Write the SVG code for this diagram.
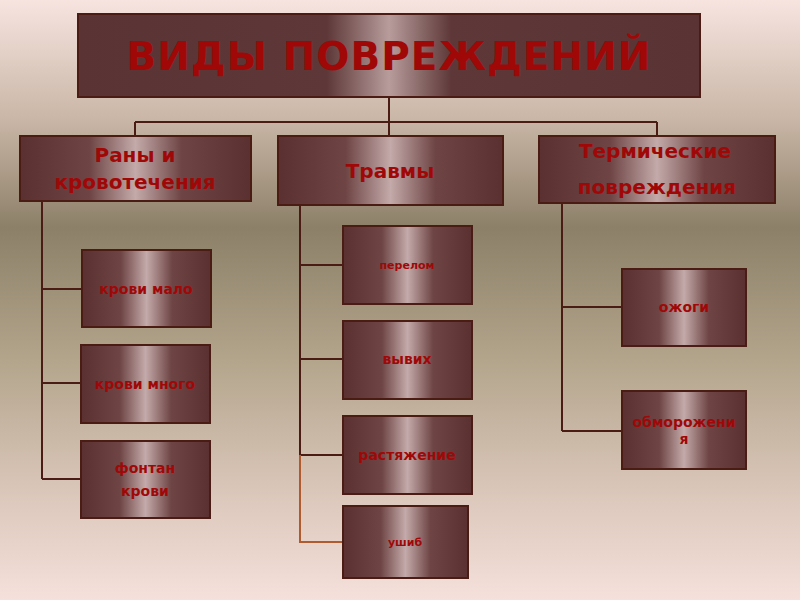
<svg xmlns="http://www.w3.org/2000/svg" width="800" height="600" viewBox="0 0 800 600">
<defs>
<linearGradient id="bg" x1="0" y1="0" x2="0" y2="1">
<stop offset="0" stop-color="#f7e4e0"/>
<stop offset="0.2" stop-color="#c9b6a6"/>
<stop offset="0.38" stop-color="#8c8068"/>
<stop offset="0.6" stop-color="#b3a58c"/>
<stop offset="0.85" stop-color="#e0cbc0"/>
<stop offset="1" stop-color="#f5e0db"/>
</linearGradient>
<linearGradient id="metal" x1="0" y1="0" x2="1" y2="0">
<stop offset="0" stop-color="#5a3030"/>
<stop offset="0.3" stop-color="#6e4444"/>
<stop offset="0.5" stop-color="#c4aaaa"/>
<stop offset="0.7" stop-color="#6e4444"/>
<stop offset="1" stop-color="#5a3030"/>
</linearGradient>
<linearGradient id="metalT" x1="0" y1="0" x2="1" y2="0">
<stop offset="0" stop-color="#5a3434"/>
<stop offset="0.4" stop-color="#5e3838"/>
<stop offset="0.5" stop-color="#b89c9c"/>
<stop offset="0.6" stop-color="#5e3838"/>
<stop offset="1" stop-color="#5a3434"/>
</linearGradient>
</defs>
<style>
.b{fill:url(#metal);stroke:#4a1c14;stroke-width:2}
.t{font-family:"DejaVu Sans",sans-serif;font-weight:bold;fill:#a00808;text-anchor:middle}
.l1{font-size:20px}
.c{font-size:14px}
.s{font-size:11px}
.ln{stroke:#4a1c14;stroke-width:2;fill:none}
</style>
<rect width="800" height="600" fill="url(#bg)"/>
<g id="connectors">
<path class="ln" d="M389 97V122M135 122H657M135 122V136M389 122V136M657 122V136"/>
<path class="ln" d="M42 201V479M42 289H82M42 383H81M42 479H81"/>
<path class="ln" d="M300 205V455M300 265H343M300 359H343M300 455H343"/>
<path class="ln" d="M300 455V542H343" style="stroke:#b05a30"/>
<path class="ln" d="M562 203V431M562 307H622M562 431H622"/>
</g>
<g id="title"><rect class="b" x="78" y="14" width="622" height="83" style="fill:url(#metalT)"/><text class="t" x="389" y="70" font-size="39" letter-spacing="1">ВИДЫ ПОВРЕЖДЕНИЙ</text></g>
<g id="rany"><rect class="b" x="20" y="136" width="231" height="65"/><text class="t l1" x="135" y="162">Раны и</text><text class="t l1" x="135" y="189">кровотечения</text></g>
<g id="travmy"><rect class="b" x="278" y="136" width="225" height="69"/><text class="t l1" x="390" y="178">Травмы</text></g>
<g id="term"><rect class="b" x="539" y="136" width="236" height="67"/><text class="t l1" x="655" y="158">Термические</text><text class="t l1" x="657" y="194">повреждения</text></g>
<g id="malo"><rect class="b" x="82" y="250" width="129" height="77"/><text class="t c" x="146" y="294">крови мало</text></g>
<g id="mnogo"><rect class="b" x="81" y="345" width="129" height="78"/><text class="t c" x="145" y="389">крови много</text></g>
<g id="fontan"><rect class="b" x="81" y="441" width="129" height="77"/><text class="t c" x="145" y="473">фонтан</text><text class="t c" x="145" y="496">крови</text></g>
<g id="perelom"><rect class="b" x="343" y="226" width="129" height="78"/><text class="t s" x="407" y="269">перелом</text></g>
<g id="vyvih"><rect class="b" x="343" y="321" width="129" height="78"/><text class="t c" x="407" y="364">вывих</text></g>
<g id="rast"><rect class="b" x="343" y="416" width="129" height="78"/><text class="t c" x="407" y="460">растяжение</text></g>
<g id="ushib"><rect class="b" x="343" y="506" width="125" height="72"/><text class="t s" x="405" y="546">ушиб</text></g>
<g id="ozhogi"><rect class="b" x="622" y="269" width="124" height="77"/><text class="t c" x="684" y="312">ожоги</text></g>
<g id="obmor"><rect class="b" x="622" y="391" width="124" height="78"/><text class="t c" x="684" y="427">обморожени</text><text class="t c" x="684" y="444">я</text></g>
</svg>
